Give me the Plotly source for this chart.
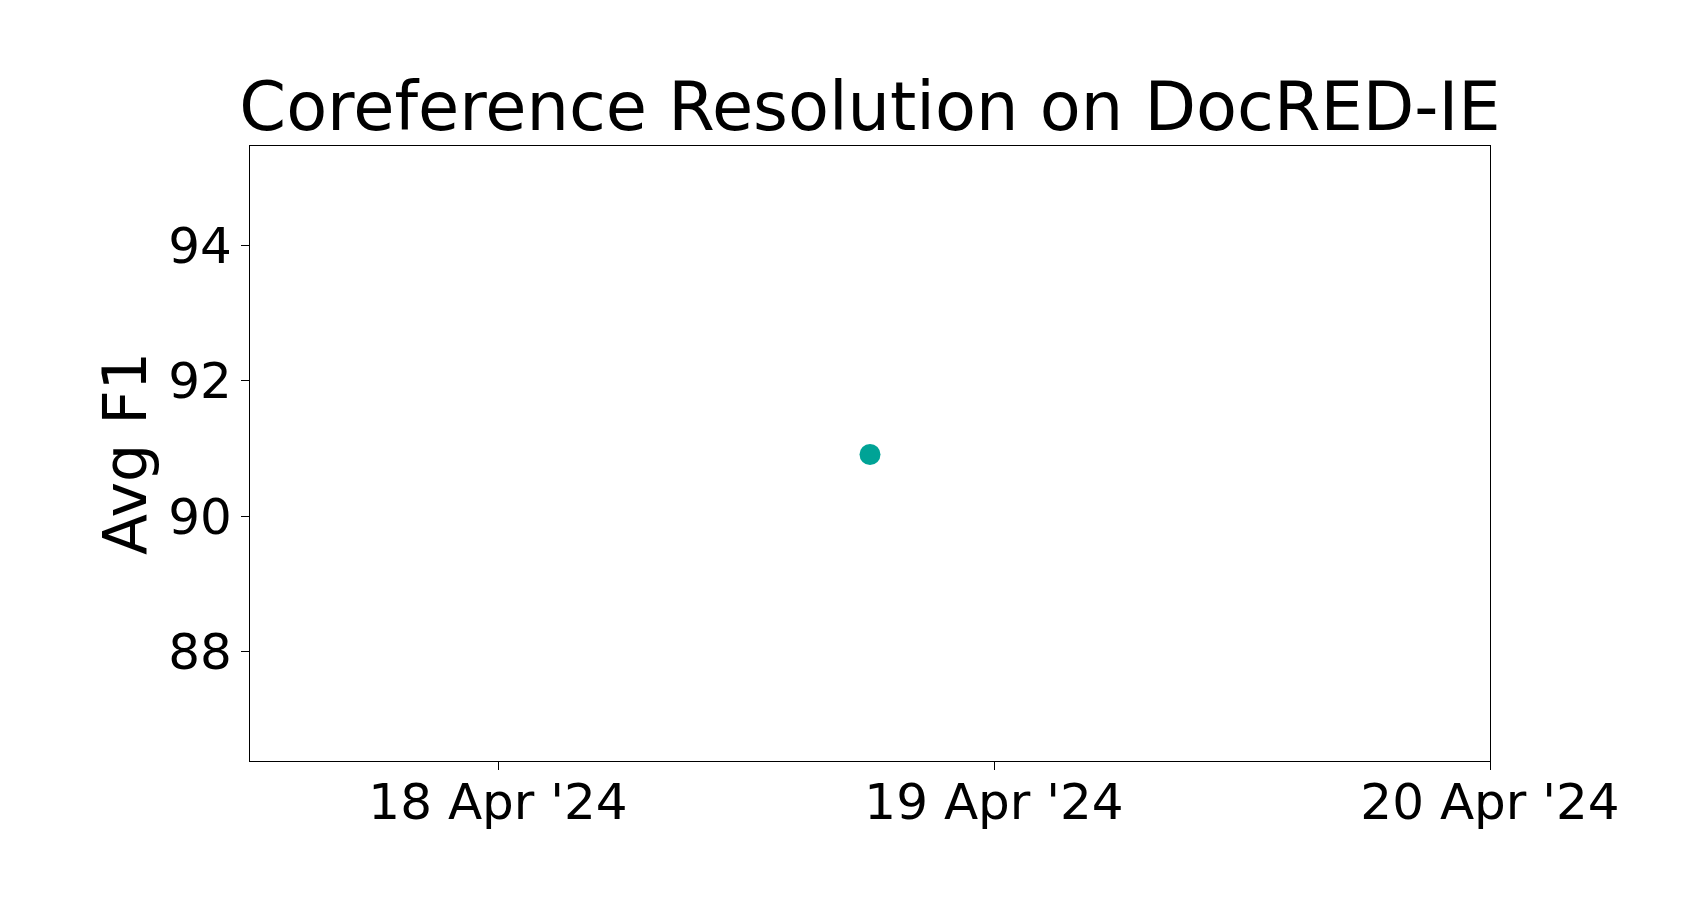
import plotly.graph_objects as go

# Data
dates = ["2024-04-18 18:00"]
scores = [90.91]
x_ticks = ["2024-04-18", "2024-04-19", "2024-04-20"]
x_ticktext = ["18 Apr '24", "19 Apr '24", "20 Apr '24"]
y_ticks = [88, 90, 92, 94]

fig = go.Figure(
    go.Scatter(
        x=dates,
        y=scores,
        mode="markers",
        marker=dict(color="#00A396", size=21, line=dict(width=0)),
    )
)

axis_style = dict(
    showline=True,
    mirror=True,
    linecolor="black",
    linewidth=1.3,
    ticks="outside",
    ticklen=8,
    tickwidth=1.3,
    tickcolor="black",
    showgrid=False,
    zeroline=False,
    tickfont=dict(family="DejaVu Sans", size=50, color="black"),
)

fig.update_xaxes(
    type="date",
    range=["2024-04-17 12:00", "2024-04-20 00:00"],
    tickvals=x_ticks,
    ticktext=x_ticktext,
    ticklabelstandoff=-11,
    **axis_style,
)
fig.update_yaxes(
    range=[86.38, 95.47],
    tickvals=y_ticks,
    ticklabelstandoff=-1,
    title=dict(text="Avg F1", font=dict(family="DejaVu Sans", size=60, color="black"), standoff=2),
    **axis_style,
)

# page body adds 8px offset, so margins are shifted back by 8
fig.update_layout(
    width=1700,
    height=900,
    margin=dict(l=242, r=218, t=138, b=147),
    plot_bgcolor="white",
    paper_bgcolor="white",
    showlegend=False,
    title=dict(
        text="Coreference Resolution on DocRED-IE",
        font=dict(family="DejaVu Sans", size=67, color="black"),
        x=0.5,
        xanchor="center",
        xref="paper",
        y=1 - 122 / 900,
        yref="container",
        yanchor="bottom",
    ),
)

fig.write_html("out.html")
